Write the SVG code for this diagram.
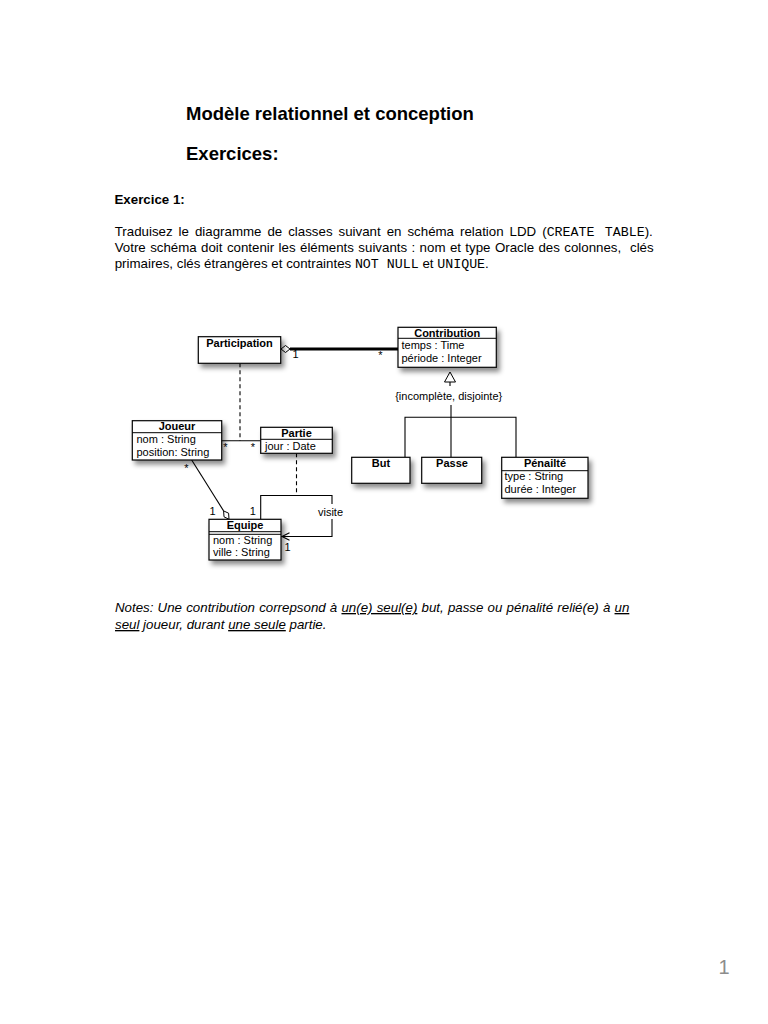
<svg xmlns="http://www.w3.org/2000/svg" width="768" height="1024" viewBox="0 0 768 1024">
<defs>
<filter id="sh" x="-20%" y="-20%" width="150%" height="170%">
<feDropShadow dx="3" dy="4" stdDeviation="2.5" flood-color="#000" flood-opacity="0.45"/>
</filter>
<style>
.h{font-family:"Liberation Sans",Arial,sans-serif;font-weight:bold;font-size:18.5px;fill:#000}
.b{font-family:"Liberation Sans",Arial,sans-serif;font-weight:bold;font-size:13.3px;fill:#000}
.p{font-family:"Liberation Sans",Arial,sans-serif;font-size:13.3px;fill:#000}
.m{font-family:"Liberation Mono","Courier New",monospace;font-size:13.3px}
.n{font-family:"Liberation Sans",Arial,sans-serif;font-style:italic;font-size:13.3px;fill:#000}
.t{font-family:"Liberation Sans",Arial,sans-serif;font-weight:bold;font-size:11px;fill:#000;text-anchor:middle}
.a{font-family:"Liberation Sans",Arial,sans-serif;font-size:11px;fill:#000}
.c{font-family:"Liberation Sans",Arial,sans-serif;font-size:11px;fill:#000;text-anchor:middle}
.box{fill:#fff;stroke:#000;stroke-width:1.2;filter:url(#sh)}
.sep{stroke:#000;stroke-width:1}
.ln{stroke:#000;stroke-width:1.1;fill:none}
.thick{stroke:#000;stroke-width:3;fill:none}
.ds{stroke:#000;stroke-width:1.1;fill:none;stroke-dasharray:4 3}
</style>
</defs>
<rect width="768" height="1024" fill="#fff"/>

<text class="h" x="186" y="120">Modèle relationnel et conception</text>
<text class="h" x="186" y="160">Exercices:</text>
<text class="b" x="114.5" y="204">Exercice 1:</text>

<text class="p" x="114.7" y="236" word-spacing="2.3">Traduisez le diagramme de classes suivant en schéma relation LDD (<tspan class="m">CREATE TABLE</tspan>).</text>
<text class="p" x="114.7" y="252" word-spacing="0.7" xml:space="preserve">Votre schéma doit contenir les éléments suivants : nom et type Oracle des colonnes,  clés</text>
<text class="p" x="114.7" y="268">primaires, clés étrangères et contraintes <tspan class="m">NOT NULL</tspan> et <tspan class="m">UNIQUE</tspan>.</text>

<g id="connectors">
<line class="thick" x1="290" y1="349" x2="398" y2="349"/>
<polygon points="281,349 285.5,345.5 290,349 285.5,352.5" fill="#fff" stroke="#000" stroke-width="1"/>
<text class="a" x="292.5" y="358">1</text>
<text class="c" x="380.5" y="359">*</text>

<polygon points="450,372 444.5,382 455.5,382" fill="#fff" stroke="#000" stroke-width="1"/>
<line class="ln" x1="450" y1="382" x2="450" y2="386"/>
<text class="c" x="448.7" y="400">{incomplète, disjointe}</text>
<line class="ln" x1="451" y1="405" x2="451" y2="457.3"/>
<polyline class="ln" points="405,457.3 405,417.3 516,417.3 516,457.3"/>

<line class="ds" x1="240" y1="363.3" x2="240" y2="440.7"/>
<line class="ln" x1="221.7" y1="440.7" x2="260.7" y2="440.7"/>
<text class="c" x="225.5" y="451">*</text>
<text class="c" x="253" y="451">*</text>

<line class="ln" x1="191.7" y1="460" x2="223.6" y2="510.9"/>
<polygon points="223.6,510.9 228.6,513.2 229,519.3 224,516.8" fill="#fff" stroke="#000" stroke-width="1"/>
<text class="c" x="186.5" y="472">*</text>
<text class="c" x="212.5" y="515">1</text>
<text class="c" x="252.7" y="515">1</text>

<line class="ds" x1="296.5" y1="453.3" x2="296.5" y2="495.5"/>
<polyline class="ln" points="260.7,519.3 260.7,495.5 332,495.5 332,504"/>
<polyline class="ln" points="332,519 332,536.5 281.5,536.5"/>
<polyline class="ln" points="289.5,532.8 282,536.5 289.5,540.2"/>
<text class="c" x="330.5" y="516">visite</text>
<text class="c" x="287.5" y="551">1</text>
</g>

<g id="participation">
<rect class="box" x="198.3" y="336.7" width="82.4" height="26.6"/>
<text class="t" x="239.5" y="346.5">Participation</text>
</g>

<g id="contribution">
<rect class="box" x="398" y="327.3" width="98.3" height="40"/>
<line class="sep" x1="398" y1="338.3" x2="496.3" y2="338.3"/>
<text class="t" x="447.2" y="336.5">Contribution</text>
<text class="a" x="401.5" y="349">temps : Time</text>
<text class="a" x="401.5" y="362">période : Integer</text>
</g>

<g id="joueur">
<rect class="box" x="132.3" y="420.7" width="89.4" height="39.3"/>
<line class="sep" x1="132.3" y1="432.7" x2="221.7" y2="432.7"/>
<text class="t" x="177" y="430">Joueur</text>
<text class="a" x="136.5" y="443">nom : String</text>
<text class="a" x="136.5" y="456">position: String</text>
</g>

<g id="partie">
<rect class="box" x="260.7" y="427.3" width="71.6" height="26"/>
<line class="sep" x1="260.7" y1="439.3" x2="332.3" y2="439.3"/>
<text class="t" x="296.5" y="436.5">Partie</text>
<text class="a" x="265" y="449.5">jour : Date</text>
</g>

<g id="equipe">
<rect class="box" x="209" y="519.3" width="72" height="40.7"/>
<line class="sep" x1="209" y1="531.7" x2="281" y2="531.7"/>
<line class="sep" x1="209" y1="534.3" x2="281" y2="534.3"/>
<text class="t" x="245" y="529.3">Equipe</text>
<text class="a" x="213" y="543.5">nom : String</text>
<text class="a" x="213" y="555.5">ville : String</text>
</g>

<g id="but">
<rect class="box" x="351.7" y="457.3" width="58.3" height="26"/>
<text class="t" x="381" y="467.3">But</text>
</g>

<g id="passe">
<rect class="box" x="421.7" y="457.3" width="60" height="26"/>
<text class="t" x="452" y="467.3">Passe</text>
</g>

<g id="penalite">
<rect class="box" x="501.7" y="457.3" width="86.3" height="41"/>
<line class="sep" x1="501.7" y1="470.7" x2="588" y2="470.7"/>
<text class="t" x="545" y="467.3">Pénailté</text>
<text class="a" x="504.5" y="479.5">type : String</text>
<text class="a" x="504.5" y="492.5">durée : Integer</text>
</g>

<text class="n" x="115" y="612" word-spacing="0.5">Notes: Une contribution correpsond à <tspan text-decoration="underline">un(e) seul(e)</tspan> but, passe ou pénalité relié(e) à <tspan text-decoration="underline">un</tspan></text>
<text class="n" x="115" y="629"><tspan text-decoration="underline">seul</tspan> joueur, durant <tspan text-decoration="underline">une seule</tspan> partie.</text>

<text x="718.5" y="974" font-family="'Liberation Sans',Arial,sans-serif" font-size="20" fill="#8c8c8c">1</text>
</svg>
